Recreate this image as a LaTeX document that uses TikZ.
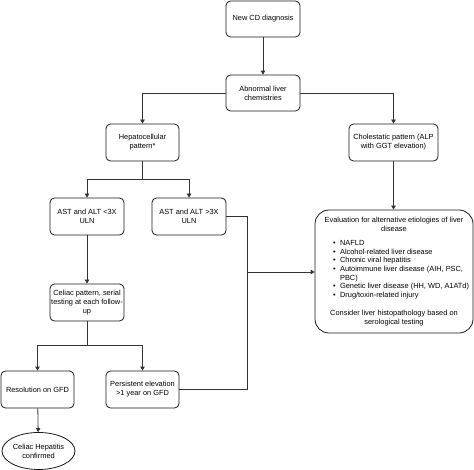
\documentclass[tikz,border=0pt]{standalone}
\usepackage{fontspec}
\setmainfont{Liberation Sans}
\usetikzlibrary{arrows.meta,shapes.geometric}
\begin{document}
\begin{tikzpicture}[x=1pt,y=-1pt,
  box/.style={draw=black!90, line width=0.8pt, rounded corners=4.5pt, align=center, inner sep=1pt,
    font=\fontsize{7.4}{9}\selectfont},
  conn/.style={draw=black!80, line width=0.8pt, -{Triangle[length=4pt,width=4.5pt]}},
  plain/.style={draw=black!80, line width=0.8pt}]
\useasboundingbox (0,0) rectangle (474,470);
\node[box, minimum width=74, minimum height=36] (new) at (263,19) {New CD diagnosis};
\node[box, minimum width=74, minimum height=36] (abn) at (263,93) {Abnormal liver\\chemistries};
\node[box, minimum width=73, minimum height=37] (hep) at (142.5,142.5) {Hepatocellular\\pattern*};
\node[box, minimum width=89, minimum height=37] (chol) at (393.5,142.5) {Cholestatic pattern (ALP\\with GGT elevation)};
\node[box, minimum width=74, minimum height=37] (astlt) at (87,216.5) {AST and ALT <3X\\ULN};
\node[box, minimum width=74, minimum height=37] (astgt) at (189,216.5) {AST and ALT >3X\\ULN};
\node[box, minimum width=74, minimum height=37] (celiac) at (87,302.5) {Celiac pattern, serial\\testing at each follow-\\up};
\node[box, minimum width=73, minimum height=37] (res) at (37.5,389.5) {Resolution on GFD};
\node[box, minimum width=73, minimum height=37] (pers) at (142.5,389.5) {Persistent elevation\\>1 year on GFD};
\node[box, ellipse, inner sep=0pt, minimum width=73, minimum height=37] (conf) at (38.5,451) {Celiac Hepatitis\\confirmed};
\node[box, rounded corners=14pt, minimum width=158, minimum height=123, inner sep=0pt,
  font=\fontsize{7.4}{8.7}\selectfont] (eval) at (394,271.5) {%
Evaluation for alternative etiologies of liver\\disease\\[7pt]
\makebox[150pt][l]{\hspace{14pt}\begin{tabular}{@{}l@{\hspace{4.5pt}}l@{}}
\textbullet & NAFLD\\
\textbullet & Alcohol-related liver disease\\
\textbullet & Chronic viral hepatitis\\
\textbullet & Autoimmune liver disease (AIH, PSC,\\
 & PBC)\\
\textbullet & Genetic liver disease (HH, WD, A1ATd)\\
\textbullet & Drug/toxin-related injury
\end{tabular}}\\[9pt]
Consider liver histopathology based on\\serological testing};
\coordinate (j1) at (142.5,179);
\coordinate (j2) at (247,272);
\coordinate (j2t) at (247,216.5);
\coordinate (j2b) at (247,389.5);
\coordinate (j3) at (87,345);
\draw[conn] (new) -- (abn);
\draw[conn] (abn.west) -| (hep.north);
\draw[conn] (abn.east) -| (chol.north);
\draw[plain] (hep.south) -- (j1);
\draw[conn] (j1) -| (astlt.north);
\draw[conn] (j1) -| (astgt.north);
\draw[conn] (chol.south) -- (chol.south |- eval.north);
\draw[plain] (astgt.east) -- (j2t) -- (j2b) -- (pers.east);
\draw[conn] (j2) -- (eval.west |- j2);
\draw[conn] (astlt) -- (celiac);
\draw[plain] (celiac.south) -- (j3);
\draw[conn] (j3) -| (res.north);
\draw[conn] (j3) -| (pers.north);
\draw[conn] (res) -- (conf);
\end{tikzpicture}
\end{document}
